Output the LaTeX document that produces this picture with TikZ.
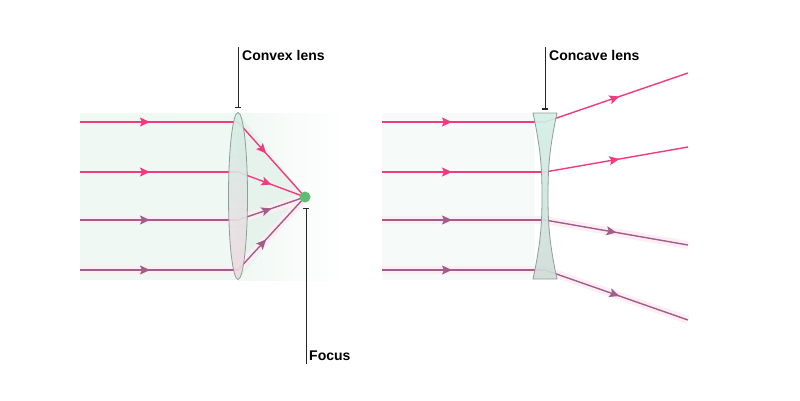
\documentclass[tikz,border=0pt]{standalone}
\usepackage{fontspec}
\setmainfont{Liberation Sans}
\usetikzlibrary{arrows.meta,decorations.markings,shapes.geometric}
\definecolor{rayA}{HTML}{F23A80}
\definecolor{rayB}{HTML}{A05E88}
\definecolor{lensfill}{HTML}{D3EFE6}
\definecolor{lensmid}{HTML}{DCEFEA}
\definecolor{lenspink}{HTML}{EFD9E1}
\definecolor{lensgray}{HTML}{D0DCD8}
\definecolor{lensdraw}{HTML}{8E9E9A}
\definecolor{beamL}{HTML}{F0F8F4}
\definecolor{beamR}{HTML}{F6FBF9}
\definecolor{conebg}{HTML}{E2F2EA}
\definecolor{pinkglow}{HTML}{FDEEF4}
\definecolor{focusc}{HTML}{5DBE72}
\begin{document}
\begin{tikzpicture}[x=1pt,y=-1pt,
  lbl/.style={font=\bfseries\fontsize{14}{16}\selectfont, inner sep=0pt, anchor=west},
  pointer/.style={line width=0.9pt, black!85},
  beamA/.style={line width=1.4pt, rayA},
  beamB/.style={line width=1.4pt, rayB},
  midarrow/.style={postaction=decorate, decoration={markings, mark=at position #1 with {\arrow{Stealth[length=10pt,width=9pt,inset=2pt]}}}},
  glow/.style={line width=8pt, pinkglow},
]
\useasboundingbox (0,0) rectangle (800,400);
\fill[white] (0,0) rectangle (800,400);

% ---------- backgrounds ----------
\fill[beamL] (80,113) rectangle (238,280);
\shade[left color=beamL, right color=white] (238,113) rectangle (345,280);
\fill[conebg, opacity=0.8] (238,113) -- (305,197) -- (238,280) -- cycle;
\fill[beamR] (382,113) rectangle (535,280);

% ---------- coordinates ----------
\coordinate (l1) at (80,122);  \coordinate (l2) at (80,172);
\coordinate (l3) at (80,220);  \coordinate (l4) at (80,270);
\coordinate (c1) at (238,122); \coordinate (c2) at (238,172);
\coordinate (c3) at (238,220); \coordinate (c4) at (238,270);
\coordinate (r1) at (382,122); \coordinate (r2) at (382,172);
\coordinate (r3) at (382,220); \coordinate (r4) at (382,270);
\coordinate (k1) at (545,122); \coordinate (k2) at (545,172);
\coordinate (k3) at (545,220); \coordinate (k4) at (545,270);
\coordinate (e1) at (688,73);  \coordinate (e2) at (688,147);
\coordinate (e3) at (688,245); \coordinate (e4) at (688,320);
\coordinate (fp) at (305,197);

% ---------- pink glows ----------
\draw[glow] (l3) -- (c3) -- (fp);
\draw[glow] (l4) -- (c4) -- (fp);
\draw[glow] (r3) -- (k3) -- (e3);
\draw[glow] (r4) -- (k4) -- (e4);

% ---------- rays: convex ----------
\draw[beamA, midarrow=70pt] (l1) -- (c1);
\draw[beamA, midarrow=70pt] (l2) -- (c2);
\draw[beamB, midarrow=70pt] (l3) -- (c3);
\draw[beamB, midarrow=70pt] (l4) -- (c4);
\draw[beamA, midarrow=0.42] (c1) -- (fp);
\draw[beamA, midarrow=0.5] (c2) -- (fp);
\draw[beamB, midarrow=0.5] (c3) -- (fp);
\draw[beamB, midarrow=0.42] (c4) -- (fp);

% ---------- rays: concave ----------
\draw[beamA, midarrow=70pt] (r1) -- (k1);
\draw[beamA, midarrow=70pt] (r2) -- (k2);
\draw[beamB, midarrow=70pt] (r3) -- (k3);
\draw[beamB, midarrow=70pt] (r4) -- (k4);
\draw[beamA, midarrow=0.52] (k1) -- (e1);
\draw[beamA, midarrow=0.52] (k2) -- (e2);
\draw[beamB, midarrow=0.5] (k3) -- (e3);
\draw[beamB, midarrow=0.52] (k4) -- (e4);

% ---------- lenses ----------
\node[ellipse, minimum width=19pt, minimum height=167pt, inner sep=0pt,
      draw=lensdraw, line width=0.8pt, top color=lensfill, middle color=lensmid, bottom color=lenspink,
      fill opacity=0.9] (cvx) at (238,196) {};
\shadedraw[draw=lensdraw, line width=0.8pt, top color=lensfill, bottom color=lensgray, fill opacity=0.92]
  (533,113) -- (557,113) .. controls (549,150) and (548,170) .. (548,196)
  .. controls (548,222) and (549,242) .. (557,279) -- (533,279)
  .. controls (541,242) and (542,222) .. (542,196)
  .. controls (542,170) and (541,150) .. (533,113) -- cycle;
\coordinate (ccv) at (545,113);

% ---------- focus ----------
\node[circle, fill=focusc, minimum size=11pt, inner sep=0pt] (focus) at (fp) {};

% ---------- labels ----------
\node[lbl] (cvxlbl) at (242,55) {Convex lens};
\coordinate (cvxtop) at (238,47);
\draw[pointer, -{Bar[width=6pt,line width=1.6pt]}] (cvxtop) -- ([yshift=4pt]cvx.north);

\node[lbl] (ccvlbl) at (549,55) {Concave lens};
\coordinate (ccvtop) at (545,47);
\draw[pointer, -{Bar[width=6pt,line width=1.6pt]}] (ccvtop) -- ([yshift=3pt]ccv);

\node[lbl] (foclbl) at (309,356) {Focus};
\coordinate (focbot) at (306,364);
\draw[pointer, -{Bar[width=6pt,line width=1.6pt]}] (focbot) -- ([yshift=-5pt,xshift=1pt]focus.south);
\end{tikzpicture}
\end{document}
